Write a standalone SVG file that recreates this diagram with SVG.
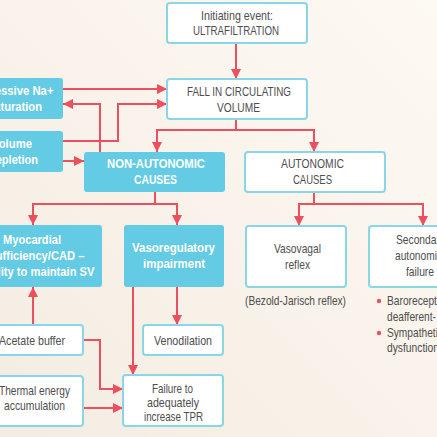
<svg xmlns="http://www.w3.org/2000/svg" width="437" height="437" viewBox="0 0 437 437">
<defs>
<linearGradient id="bg" x1="0" y1="1" x2="1" y2="0">
<stop offset="0" stop-color="#f4ece2"/>
<stop offset="1" stop-color="#fdf9f3"/>
</linearGradient>
<marker id="ah" markerUnits="userSpaceOnUse" markerWidth="10" markerHeight="10" refX="10" refY="5" orient="auto">
<path d="M0,0 L10,5 L0,10 Z" fill="#ec4f5d"/>
</marker>
<style>
.w{fill:#ffffff;stroke:#88d6e6;stroke-width:2}
.c{fill:#63cbe3}
.t{font-family:"Liberation Sans",Arial,sans-serif;font-size:13.5px;fill:#4d4d4d;text-anchor:middle}
.s{text-anchor:start}
.b{font-weight:bold;font-size:13px;fill:#ffffff}
.l{fill:none;stroke:#ec4f5d;stroke-width:2}
.a{marker-end:url(#ah)}
</style>
</defs>
<rect width="437" height="437" fill="url(#bg)"/>
<g id="connectors">
<path class="l a" d="M236,43 V79"/>
<path class="l" d="M236,119 V130"/>
<path class="l a" d="M236,130 H157 V152"/>
<path class="l a" d="M236,130 H314 V152"/>
<path class="l a" d="M63,89 H167"/>
<path class="l a" d="M63,141 H118 V104 H167"/>
<path class="l a" d="M100,152 V104 H63"/>
<path class="l a" d="M63,161 H84"/>
<path class="l" d="M155,192 V204"/>
<path class="l a" d="M155,204 H33 V225"/>
<path class="l a" d="M155,204 H177 V225"/>
<path class="l a" d="M33,325 V287"/>
<path class="l a" d="M83,340 H100 V389 H123"/>
<path class="l a" d="M83,408 H123"/>
<path class="l a" d="M177,287 V325"/>
<path class="l a" d="M133,287 V375"/>
<path class="l" d="M314,192 V204"/>
<path class="l a" d="M314,204 H299 V226"/>
<path class="l a" d="M314,204 H423 V226"/>
</g>
<g id="initiating">
<rect class="w" x="167" y="3" width="140" height="40" rx="3"/>
<text class="t" x="237" y="20" textLength="72" lengthAdjust="spacingAndGlyphs">Initiating event:</text>
<text class="t" x="236" y="34.5" textLength="86" lengthAdjust="spacingAndGlyphs">ULTRAFILTRATION</text>
</g>
<g id="fall">
<rect class="w" x="167" y="79" width="140" height="40" rx="3"/>
<text class="t" x="239" y="95.5" textLength="104" lengthAdjust="spacingAndGlyphs">FALL IN CIRCULATING</text>
<text class="t" x="238.5" y="111.5" textLength="43" lengthAdjust="spacingAndGlyphs">VOLUME</text>
</g>
<g id="sodium">
<rect class="c" x="-40" y="78" width="103" height="41" rx="3"/>
<text class="t b" x="14" y="94.5" textLength="79" lengthAdjust="spacingAndGlyphs">Excessive Na+</text>
<text class="t b" x="15" y="110.5" textLength="54" lengthAdjust="spacingAndGlyphs">saturation</text>
</g>
<g id="volume">
<rect class="c" x="-40" y="131" width="103" height="41" rx="3"/>
<text class="t b" x="12" y="148" textLength="40" lengthAdjust="spacingAndGlyphs">Volume</text>
<text class="t b" x="13.5" y="163.5" textLength="49" lengthAdjust="spacingAndGlyphs">depletion</text>
</g>
<g id="nonautonomic">
<rect class="c" x="84" y="152" width="141" height="40" rx="3"/>
<text class="t b" x="156" y="167.5" textLength="98" lengthAdjust="spacingAndGlyphs">NON-AUTONOMIC</text>
<text class="t b" x="155.5" y="183.5" textLength="43" lengthAdjust="spacingAndGlyphs">CAUSES</text>
</g>
<g id="autonomic">
<rect class="w" x="245" y="152" width="140" height="40" rx="3"/>
<text class="t" x="312.5" y="167.5" textLength="63" lengthAdjust="spacingAndGlyphs">AUTONOMIC</text>
<text class="t" x="312.5" y="183.5" textLength="39" lengthAdjust="spacingAndGlyphs">CAUSES</text>
</g>
<g id="myocardial">
<rect class="c" x="-40" y="225" width="142" height="62" rx="3"/>
<text class="t b" x="32" y="244" textLength="58" lengthAdjust="spacingAndGlyphs">Myocardial</text>
<text class="t b" x="32" y="260" textLength="105" lengthAdjust="spacingAndGlyphs">insufficiency/CAD –</text>
<text class="t b" x="33" y="275.5" textLength="123" lengthAdjust="spacingAndGlyphs">inability to maintain SV</text>
</g>
<g id="vasoregulatory">
<rect class="c" x="124" y="225" width="100" height="62" rx="3"/>
<text class="t b" x="173.5" y="252" textLength="83" lengthAdjust="spacingAndGlyphs">Vasoregulatory</text>
<text class="t b" x="174" y="268" textLength="62" lengthAdjust="spacingAndGlyphs">impairment</text>
</g>
<g id="vasovagal">
<rect class="w" x="246" y="226" width="100" height="61" rx="3"/>
<text class="t" x="297.5" y="253" textLength="47" lengthAdjust="spacingAndGlyphs">Vasovagal</text>
<text class="t" x="297.5" y="268.5" textLength="25" lengthAdjust="spacingAndGlyphs">reflex</text>
<text class="t" x="295.5" y="305" textLength="101" lengthAdjust="spacingAndGlyphs">(Bezold-Jarisch reflex)</text>
</g>
<g id="secondary">
<rect class="w" x="369" y="226" width="102" height="61" rx="3"/>
<text class="t s" x="396" y="244" textLength="49" lengthAdjust="spacingAndGlyphs">Secondary</text>
<text class="t s" x="395" y="260" textLength="47" lengthAdjust="spacingAndGlyphs">autonomic</text>
<text class="t s" x="406" y="275.5" textLength="28" lengthAdjust="spacingAndGlyphs">failure</text>
<circle cx="379" cy="301" r="2.2" fill="#ec4f5d"/>
<text class="t s" x="387" y="304.5" textLength="59" lengthAdjust="spacingAndGlyphs">Baroreceptor</text>
<text class="t s" x="387" y="320.5" textLength="49" lengthAdjust="spacingAndGlyphs">deafferent-</text>
<circle cx="379" cy="333" r="2.2" fill="#ec4f5d"/>
<text class="t s" x="387" y="336.5" textLength="56" lengthAdjust="spacingAndGlyphs">Sympathetic</text>
<text class="t s" x="387" y="352" textLength="52" lengthAdjust="spacingAndGlyphs">dysfunction</text>
</g>
<g id="acetate">
<rect class="w" x="-40" y="325" width="123" height="30" rx="3"/>
<text class="t" x="32" y="344.5" textLength="66" lengthAdjust="spacingAndGlyphs">Acetate buffer</text>
</g>
<g id="thermal">
<rect class="w" x="-40" y="376" width="123" height="50" rx="3"/>
<text class="t" x="34.5" y="394.5" textLength="71" lengthAdjust="spacingAndGlyphs">Thermal energy</text>
<text class="t" x="34.5" y="410" textLength="61" lengthAdjust="spacingAndGlyphs">accumulation</text>
</g>
<g id="venodilation">
<rect class="w" x="143" y="325" width="80" height="30" rx="3"/>
<text class="t" x="183" y="344.5" textLength="58" lengthAdjust="spacingAndGlyphs">Venodilation</text>
</g>
<g id="failure">
<rect class="w" x="123" y="375" width="100" height="51" rx="3"/>
<text class="t" x="172.5" y="393" textLength="41" lengthAdjust="spacingAndGlyphs">Failure to</text>
<text class="t" x="173" y="406.5" textLength="52" lengthAdjust="spacingAndGlyphs">adequately</text>
<text class="t" x="173.5" y="420.5" textLength="59" lengthAdjust="spacingAndGlyphs">increase TPR</text>
</g>
</svg>
